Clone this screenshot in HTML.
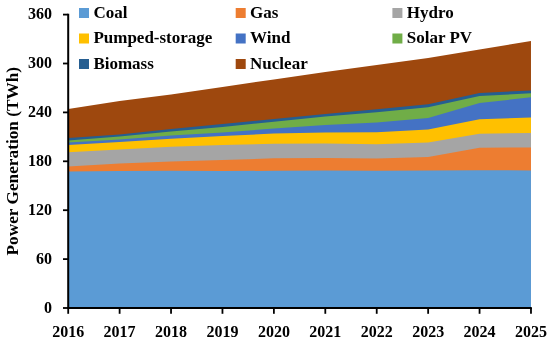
<!DOCTYPE html>
<html><head><meta charset="utf-8"><title>Power Generation</title>
<style>
html,body{margin:0;padding:0;background:#fff;}
body{width:550px;height:342px;overflow:hidden;}
svg{display:block;}
text{font-family:"Liberation Serif",serif;font-weight:bold;fill:#000;}
.n{font-size:16px;}
.l{font-size:17px;}
.t{font-size:17px;}
line{stroke:#000;stroke-width:1.8;}
</style></head><body>
<svg width="550" height="342" viewBox="0 0 550 342">
<rect width="550" height="342" fill="#fff"/>
<g>
<path d="M68.2 308.0 L68.20 109.00 L119.62 101.00 L171.04 94.40 L222.46 87.00 L273.88 79.40 L325.30 72.00 L376.72 65.00 L428.14 58.00 L479.56 49.60 L530.98 41.00 L531.0 308.0 Z" fill="#9E480E"/>
<path d="M68.2 308.0 L68.20 138.00 L119.62 134.40 L171.04 129.00 L222.46 124.00 L273.88 119.00 L325.30 114.00 L376.72 109.30 L428.14 104.20 L479.56 93.10 L530.98 90.40 L531.0 308.0 Z" fill="#255E91"/>
<path d="M68.2 308.0 L68.20 140.40 L119.62 136.40 L171.04 131.60 L222.46 127.00 L273.88 121.80 L325.30 116.60 L376.72 112.30 L428.14 107.20 L479.56 96.00 L530.98 93.30 L531.0 308.0 Z" fill="#70AD47"/>
<path d="M68.2 308.0 L68.20 142.40 L119.62 139.60 L171.04 135.60 L222.46 132.50 L273.88 128.60 L325.30 125.00 L376.72 122.60 L428.14 118.00 L479.56 103.00 L530.98 97.30 L531.0 308.0 Z" fill="#4472C4"/>
<path d="M68.2 308.0 L68.20 145.00 L119.62 142.00 L171.04 138.80 L222.46 136.00 L273.88 133.60 L325.30 132.60 L376.72 132.20 L428.14 129.60 L479.56 119.20 L530.98 117.40 L531.0 308.0 Z" fill="#FFC000"/>
<path d="M68.2 308.0 L68.20 152.20 L119.62 149.40 L171.04 146.80 L222.46 145.00 L273.88 143.80 L325.30 143.60 L376.72 144.20 L428.14 142.60 L479.56 133.70 L530.98 133.00 L531.0 308.0 Z" fill="#A5A5A5"/>
<path d="M68.2 308.0 L68.20 166.50 L119.62 163.60 L171.04 161.40 L222.46 160.00 L273.88 158.30 L325.30 158.00 L376.72 158.50 L428.14 157.00 L479.56 147.70 L530.98 147.50 L531.0 308.0 Z" fill="#ED7D31"/>
<path d="M68.2 308.0 L68.20 171.40 L119.62 171.00 L171.04 170.80 L222.46 171.00 L273.88 170.80 L325.30 170.60 L376.72 170.70 L428.14 170.40 L479.56 170.20 L530.98 170.40 L531.0 308.0 Z" fill="#5B9BD5"/>
</g>
<g>
<line x1="68.20" y1="13.7" x2="68.20" y2="308.9" style="stroke-width:2"/>
<line x1="67.40" y1="308.00" x2="531.8" y2="308.00"/>
<line x1="63" y1="308.00" x2="68.20" y2="308.00"/>
<text class="n" x="52" y="313.20" text-anchor="end">0</text>
<line x1="63" y1="259.10" x2="68.20" y2="259.10"/>
<text class="n" x="52" y="264.22" text-anchor="end">60</text>
<line x1="63" y1="210.20" x2="68.20" y2="210.20"/>
<text class="n" x="52" y="215.23" text-anchor="end">120</text>
<line x1="63" y1="161.30" x2="68.20" y2="161.30"/>
<text class="n" x="52" y="166.25" text-anchor="end">180</text>
<line x1="63" y1="112.40" x2="68.20" y2="112.40"/>
<text class="n" x="52" y="117.27" text-anchor="end">240</text>
<line x1="63" y1="63.50" x2="68.20" y2="63.50"/>
<text class="n" x="52" y="68.28" text-anchor="end">300</text>
<line x1="63" y1="14.60" x2="68.20" y2="14.60"/>
<text class="n" x="52" y="19.30" text-anchor="end">360</text>
<line x1="68.20" y1="308.00" x2="68.20" y2="313.8"/>
<text class="n" x="68.20" y="337" text-anchor="middle">2016</text>
<line x1="119.62" y1="308.00" x2="119.62" y2="313.8"/>
<text class="n" x="119.62" y="337" text-anchor="middle">2017</text>
<line x1="171.04" y1="308.00" x2="171.04" y2="313.8"/>
<text class="n" x="171.04" y="337" text-anchor="middle">2018</text>
<line x1="222.46" y1="308.00" x2="222.46" y2="313.8"/>
<text class="n" x="222.46" y="337" text-anchor="middle">2019</text>
<line x1="273.88" y1="308.00" x2="273.88" y2="313.8"/>
<text class="n" x="273.88" y="337" text-anchor="middle">2020</text>
<line x1="325.30" y1="308.00" x2="325.30" y2="313.8"/>
<text class="n" x="325.30" y="337" text-anchor="middle">2021</text>
<line x1="376.72" y1="308.00" x2="376.72" y2="313.8"/>
<text class="n" x="376.72" y="337" text-anchor="middle">2022</text>
<line x1="428.14" y1="308.00" x2="428.14" y2="313.8"/>
<text class="n" x="428.14" y="337" text-anchor="middle">2023</text>
<line x1="479.56" y1="308.00" x2="479.56" y2="313.8"/>
<text class="n" x="479.56" y="337" text-anchor="middle">2024</text>
<line x1="530.98" y1="308.00" x2="530.98" y2="313.8"/>
<text class="n" x="530.98" y="337" text-anchor="middle">2025</text>
</g>
<g>
<rect x="79.0" y="8.0" width="10" height="10" fill="#5B9BD5"/>
<text class="l" x="93.4" y="17.6">Coal</text>
<rect x="235.7" y="8.0" width="10" height="10" fill="#ED7D31"/>
<text class="l" x="250.1" y="17.6">Gas</text>
<rect x="392.4" y="8.0" width="10" height="10" fill="#A5A5A5"/>
<text class="l" x="406.8" y="17.6">Hydro</text>
<rect x="79.0" y="33.5" width="10" height="10" fill="#FFC000"/>
<text class="l" x="93.4" y="43.1">Pumped-storage</text>
<rect x="235.7" y="33.5" width="10" height="10" fill="#4472C4"/>
<text class="l" x="250.1" y="43.1">Wind</text>
<rect x="392.4" y="33.5" width="10" height="10" fill="#70AD47"/>
<text class="l" x="406.8" y="43.1">Solar PV</text>
<rect x="79.0" y="59.0" width="10" height="10" fill="#255E91"/>
<text class="l" x="93.4" y="68.6">Biomass</text>
<rect x="235.7" y="59.0" width="10" height="10" fill="#9E480E"/>
<text class="l" x="250.1" y="68.6">Nuclear</text>
</g>
<text class="t" transform="translate(17.6,161.2) rotate(-90)" text-anchor="middle" textLength="188.5" lengthAdjust="spacingAndGlyphs">Power Generation (TWh)</text>
</svg>
</body></html>
